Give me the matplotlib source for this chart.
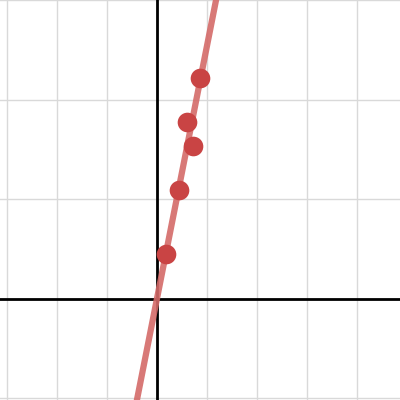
import matplotlib
matplotlib.use("Agg")
import matplotlib.pyplot as plt
import numpy as np

xs = [0.18, 0.44, 0.72, 0.60, 0.86]
ys = [0.45, 1.09, 1.53, 1.77, 2.22]
slope = 2.54

fig = plt.figure(figsize=(4, 4), dpi=100)
ax = fig.add_axes([0, 0, 1, 1])
ax.set_xlim(-3.14, 4.86)
ax.set_ylim(-1.02, 2.98)
ax.set_xticks(np.arange(-3, 5, 1))
ax.set_yticks(np.arange(-1, 3.5, 1))
ax.grid(True, color="#d9d9d9", linewidth=1)
ax.tick_params(length=0, labelbottom=False, labelleft=False)
for s in ax.spines.values():
    s.set_visible(False)
ax.axhline(0, color="black", linewidth=2, zorder=2)
ax.axvline(0, color="black", linewidth=2, zorder=2)
lx = np.array([-1, 2])
ax.plot(lx, slope * lx, color="#d46a68", linewidth=4.5, alpha=0.9, zorder=3, solid_capstyle="butt")
ax.scatter(xs, ys, s=200, color="#c94444", zorder=4, linewidths=0)
fig.savefig("out.png", dpi=100)
